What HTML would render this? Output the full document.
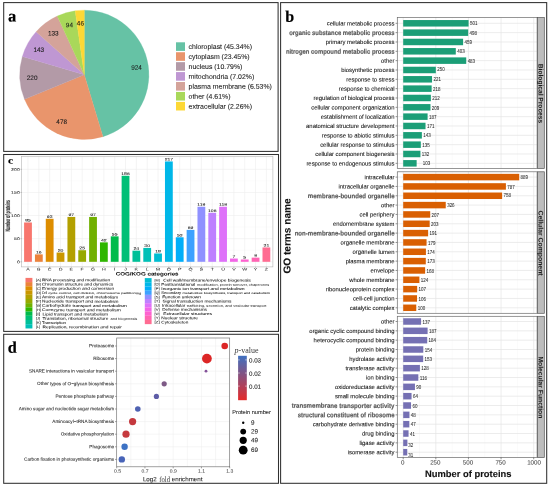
<!DOCTYPE html>
<html><head><meta charset="utf-8"><title>Figure</title>
<style>html,body{margin:0;padding:0;background:#fff}svg{display:block}text{white-space:pre}</style></head>
<body>
<svg width="550" height="487" viewBox="0 0 550 487" font-family="Liberation Sans, Arial, sans-serif">
<rect x="3.7" y="2.6" width="274.4" height="148.8" fill="none" stroke="#303030" stroke-width="1.05"/>
<rect x="3.7" y="154.5" width="274.8" height="176.9" fill="none" stroke="#303030" stroke-width="1.05"/>
<rect x="3.7" y="334.3" width="274.8" height="149" fill="none" stroke="#303030" stroke-width="1.05"/>
<rect x="280.6" y="2.6" width="266.1" height="480.7" fill="none" stroke="#303030" stroke-width="1.05"/>
<g id="panel-a">
<text font-size="66" fill="#000" font-weight="bold" font-family="Liberation Serif, Times New Roman, serif" transform="translate(7.9 21.6) rotate(0.03) scale(0.2500)" stroke="#000" stroke-width="0.79">a</text>
<path d="M84.3 74.8 L84.3 10.2 A64.6 64.6 0 0 1 102.95 136.65 Z" fill="#66c2a5" stroke="#66c2a5" stroke-width="0.3"/>
<path d="M84.3 74.8 L102.95 136.65 A64.6 64.6 0 0 1 24.55 99.36 Z" fill="#e9956c" stroke="#e9956c" stroke-width="0.3"/>
<path d="M84.3 74.8 L24.55 99.36 A64.6 64.6 0 0 1 22.37 56.44 Z" fill="#b39aa7" stroke="#b39aa7" stroke-width="0.3"/>
<path d="M84.3 74.8 L22.37 56.44 A64.6 64.6 0 0 1 36.12 31.76 Z" fill="#bf97d3" stroke="#bf97d3" stroke-width="0.3"/>
<path d="M84.3 74.8 L36.12 31.76 A64.6 64.6 0 0 1 57.27 16.12 Z" fill="#d4a39a" stroke="#d4a39a" stroke-width="0.3"/>
<path d="M84.3 74.8 L57.27 16.12 A64.6 64.6 0 0 1 75.17 10.85 Z" fill="#a9d85a" stroke="#a9d85a" stroke-width="0.3"/>
<path d="M84.3 74.8 L75.17 10.85 A64.6 64.6 0 0 1 84.3 10.2 Z" fill="#fdd835" stroke="#fdd835" stroke-width="0.3"/>
<text font-size="25.6" fill="#1a1a1a" text-anchor="middle" transform="translate(136.5 69.69) rotate(0.03) scale(0.2500)" stroke="#1a1a1a" stroke-width="0.31">924</text>
<text font-size="25.6" fill="#1a1a1a" text-anchor="middle" transform="translate(61.7 123.89) rotate(0.03) scale(0.2500)" stroke="#1a1a1a" stroke-width="0.31">478</text>
<text font-size="25.6" fill="#1a1a1a" text-anchor="middle" transform="translate(32.1 79.89) rotate(0.03) scale(0.2500)" stroke="#1a1a1a" stroke-width="0.31">220</text>
<text font-size="25.6" fill="#1a1a1a" text-anchor="middle" transform="translate(38.8 52.09) rotate(0.03) scale(0.2500)" stroke="#1a1a1a" stroke-width="0.31">143</text>
<text font-size="25.6" fill="#1a1a1a" text-anchor="middle" transform="translate(53.3 35.49) rotate(0.03) scale(0.2500)" stroke="#1a1a1a" stroke-width="0.31">133</text>
<text font-size="25.6" fill="#1a1a1a" text-anchor="middle" transform="translate(69.4 27.29) rotate(0.03) scale(0.2500)" stroke="#1a1a1a" stroke-width="0.31">94</text>
<text font-size="25.6" fill="#1a1a1a" text-anchor="middle" transform="translate(80.4 25.39) rotate(0.03) scale(0.2500)" stroke="#1a1a1a" stroke-width="0.31">46</text>
<rect x="176" y="42.3" width="9" height="8.6" fill="#66c2a5"/>
<text font-size="27.68" fill="#1a1a1a" transform="translate(188.6 49.08) rotate(0.03) scale(0.2500)" stroke="#1a1a1a" stroke-width="0.33">chloroplast (45.34%)</text>
<rect x="176" y="52.23" width="9" height="8.6" fill="#e9956c"/>
<text font-size="27.68" fill="#1a1a1a" transform="translate(188.6 59.01) rotate(0.03) scale(0.2500)" stroke="#1a1a1a" stroke-width="0.33">cytoplasm (23.45%)</text>
<rect x="176" y="62.16" width="9" height="8.6" fill="#b39aa7"/>
<text font-size="27.68" fill="#1a1a1a" transform="translate(188.6 68.94) rotate(0.03) scale(0.2500)" stroke="#1a1a1a" stroke-width="0.33">nucleus (10.79%)</text>
<rect x="176" y="72.09" width="9" height="8.6" fill="#bf97d3"/>
<text font-size="27.68" fill="#1a1a1a" transform="translate(188.6 78.87) rotate(0.03) scale(0.2500)" stroke="#1a1a1a" stroke-width="0.33">mitochondria (7.02%)</text>
<rect x="176" y="82.02" width="9" height="8.6" fill="#d4a39a"/>
<text font-size="27.68" fill="#1a1a1a" transform="translate(188.6 88.8) rotate(0.03) scale(0.2500)" stroke="#1a1a1a" stroke-width="0.33">plasma membrane (6.53%)</text>
<rect x="176" y="91.95" width="9" height="8.6" fill="#a9d85a"/>
<text font-size="27.68" fill="#1a1a1a" transform="translate(188.6 98.73) rotate(0.03) scale(0.2500)" stroke="#1a1a1a" stroke-width="0.33">other (4.61%)</text>
<rect x="176" y="101.88" width="9" height="8.6" fill="#fdd835"/>
<text font-size="27.68" fill="#1a1a1a" transform="translate(188.6 108.66) rotate(0.03) scale(0.2500)" stroke="#1a1a1a" stroke-width="0.33">extracellular (2.26%)</text>
</g>
<g id="panel-b">
<text font-size="64" fill="#000" font-weight="bold" font-family="Liberation Serif, Times New Roman, serif" transform="translate(285.2 21.7) rotate(0.03) scale(0.2500)" stroke="#000" stroke-width="0.77">b</text>
<rect x="397.3" y="17.5" width="139.8" height="151" fill="#fff"/>
<line x1="419.51" y1="17.5" x2="419.51" y2="168.5" stroke="#f2f2f2" stroke-width="0.4"/>
<line x1="452.14" y1="17.5" x2="452.14" y2="168.5" stroke="#f2f2f2" stroke-width="0.4"/>
<line x1="484.76" y1="17.5" x2="484.76" y2="168.5" stroke="#f2f2f2" stroke-width="0.4"/>
<line x1="517.39" y1="17.5" x2="517.39" y2="168.5" stroke="#f2f2f2" stroke-width="0.4"/>
<line x1="403.2" y1="17.5" x2="403.2" y2="168.5" stroke="#e4e4e4" stroke-width="0.7"/>
<line x1="435.82" y1="17.5" x2="435.82" y2="168.5" stroke="#e4e4e4" stroke-width="0.7"/>
<line x1="468.45" y1="17.5" x2="468.45" y2="168.5" stroke="#e4e4e4" stroke-width="0.7"/>
<line x1="501.07" y1="17.5" x2="501.07" y2="168.5" stroke="#e4e4e4" stroke-width="0.7"/>
<line x1="533.7" y1="17.5" x2="533.7" y2="168.5" stroke="#e4e4e4" stroke-width="0.7"/>
<line x1="397.3" y1="23.3" x2="537.1" y2="23.3" stroke="#e4e4e4" stroke-width="0.7"/>
<line x1="397.3" y1="32.64" x2="537.1" y2="32.64" stroke="#e4e4e4" stroke-width="0.7"/>
<line x1="397.3" y1="41.97" x2="537.1" y2="41.97" stroke="#e4e4e4" stroke-width="0.7"/>
<line x1="397.3" y1="51.31" x2="537.1" y2="51.31" stroke="#e4e4e4" stroke-width="0.7"/>
<line x1="397.3" y1="60.64" x2="537.1" y2="60.64" stroke="#e4e4e4" stroke-width="0.7"/>
<line x1="397.3" y1="69.98" x2="537.1" y2="69.98" stroke="#e4e4e4" stroke-width="0.7"/>
<line x1="397.3" y1="79.31" x2="537.1" y2="79.31" stroke="#e4e4e4" stroke-width="0.7"/>
<line x1="397.3" y1="88.64" x2="537.1" y2="88.64" stroke="#e4e4e4" stroke-width="0.7"/>
<line x1="397.3" y1="97.98" x2="537.1" y2="97.98" stroke="#e4e4e4" stroke-width="0.7"/>
<line x1="397.3" y1="107.32" x2="537.1" y2="107.32" stroke="#e4e4e4" stroke-width="0.7"/>
<line x1="397.3" y1="116.65" x2="537.1" y2="116.65" stroke="#e4e4e4" stroke-width="0.7"/>
<line x1="397.3" y1="125.98" x2="537.1" y2="125.98" stroke="#e4e4e4" stroke-width="0.7"/>
<line x1="397.3" y1="135.32" x2="537.1" y2="135.32" stroke="#e4e4e4" stroke-width="0.7"/>
<line x1="397.3" y1="144.66" x2="537.1" y2="144.66" stroke="#e4e4e4" stroke-width="0.7"/>
<line x1="397.3" y1="153.99" x2="537.1" y2="153.99" stroke="#e4e4e4" stroke-width="0.7"/>
<line x1="397.3" y1="163.33" x2="537.1" y2="163.33" stroke="#e4e4e4" stroke-width="0.7"/>
<rect x="403.2" y="20.05" width="65.38" height="6.5" fill="#1b9e77"/>
<text font-size="23.2" fill="#1a1a1a" transform="translate(469.98 25.38) rotate(0.03) scale(0.1938 0.2500)" stroke="#1a1a1a" stroke-width="0.12">501</text>
<line x1="395.6" y1="23.3" x2="397.3" y2="23.3" stroke="#444" stroke-width="0.6"/>
<text font-size="23.6" fill="#111" text-anchor="end" transform="translate(394.5 25.41) rotate(0.03) scale(0.2500)" stroke="#111" stroke-width="0.28">cellular metabolic process</text>
<rect x="403.2" y="29.39" width="64.99" height="6.5" fill="#1b9e77"/>
<text font-size="23.2" fill="#1a1a1a" transform="translate(469.59 34.71) rotate(0.03) scale(0.1938 0.2500)" stroke="#1a1a1a" stroke-width="0.12">498</text>
<line x1="395.6" y1="32.64" x2="397.3" y2="32.64" stroke="#444" stroke-width="0.6"/>
<text font-size="26.8" fill="#555" text-anchor="end" font-weight="bold" transform="translate(394.5 35.03) rotate(0.03) scale(0.2202 0.2500)" stroke="#555" stroke-width="0.56">organic substance metabolic process</text>
<rect x="403.2" y="38.72" width="59.9" height="6.5" fill="#1b9e77"/>
<text font-size="23.2" fill="#1a1a1a" transform="translate(464.5 44.05) rotate(0.03) scale(0.1938 0.2500)" stroke="#1a1a1a" stroke-width="0.12">459</text>
<line x1="395.6" y1="41.97" x2="397.3" y2="41.97" stroke="#444" stroke-width="0.6"/>
<text font-size="23.6" fill="#111" text-anchor="end" transform="translate(394.5 44.08) rotate(0.03) scale(0.2500)" stroke="#111" stroke-width="0.28">primary metabolic process</text>
<rect x="403.2" y="48.06" width="52.59" height="6.5" fill="#1b9e77"/>
<text font-size="23.2" fill="#1a1a1a" transform="translate(457.19 53.38) rotate(0.03) scale(0.1938 0.2500)" stroke="#1a1a1a" stroke-width="0.12">403</text>
<line x1="395.6" y1="51.31" x2="397.3" y2="51.31" stroke="#444" stroke-width="0.6"/>
<text font-size="26.8" fill="#555" text-anchor="end" font-weight="bold" transform="translate(394.5 53.7) rotate(0.03) scale(0.2203 0.2500)" stroke="#555" stroke-width="0.56">nitrogen compound metabolic process</text>
<rect x="403.2" y="57.39" width="63.03" height="6.5" fill="#1b9e77"/>
<text font-size="23.2" fill="#1a1a1a" transform="translate(467.63 62.72) rotate(0.03) scale(0.1938 0.2500)" stroke="#1a1a1a" stroke-width="0.12">483</text>
<line x1="395.6" y1="60.64" x2="397.3" y2="60.64" stroke="#444" stroke-width="0.6"/>
<text font-size="23.6" fill="#111" text-anchor="end" transform="translate(394.5 62.75) rotate(0.03) scale(0.2500)" stroke="#111" stroke-width="0.28">other</text>
<rect x="403.2" y="66.73" width="32.62" height="6.5" fill="#1b9e77"/>
<text font-size="23.2" fill="#1a1a1a" transform="translate(437.22 71.45) rotate(0.03) scale(0.1938 0.2500)" stroke="#1a1a1a" stroke-width="0.12">250</text>
<line x1="395.6" y1="69.98" x2="397.3" y2="69.98" stroke="#444" stroke-width="0.6"/>
<text font-size="23.6" fill="#111" text-anchor="end" transform="translate(394.5 72.09) rotate(0.03) scale(0.2500)" stroke="#111" stroke-width="0.28">biosynthetic process</text>
<rect x="403.2" y="76.06" width="28.84" height="6.5" fill="#1b9e77"/>
<text font-size="23.2" fill="#1a1a1a" transform="translate(433.44 81.39) rotate(0.03) scale(0.1938 0.2500)" stroke="#1a1a1a" stroke-width="0.12">221</text>
<line x1="395.6" y1="79.31" x2="397.3" y2="79.31" stroke="#444" stroke-width="0.6"/>
<text font-size="23.6" fill="#111" text-anchor="end" transform="translate(394.5 81.42) rotate(0.03) scale(0.2500)" stroke="#111" stroke-width="0.28">response to stress</text>
<rect x="403.2" y="85.39" width="28.45" height="6.5" fill="#1b9e77"/>
<text font-size="23.2" fill="#1a1a1a" transform="translate(433.05 90.72) rotate(0.03) scale(0.1938 0.2500)" stroke="#1a1a1a" stroke-width="0.12">218</text>
<line x1="395.6" y1="88.64" x2="397.3" y2="88.64" stroke="#444" stroke-width="0.6"/>
<text font-size="23.6" fill="#111" text-anchor="end" transform="translate(394.5 90.76) rotate(0.03) scale(0.2500)" stroke="#111" stroke-width="0.28">response to chemical</text>
<rect x="403.2" y="94.73" width="27.67" height="6.5" fill="#1b9e77"/>
<text font-size="23.2" fill="#1a1a1a" transform="translate(432.27 100.06) rotate(0.03) scale(0.1938 0.2500)" stroke="#1a1a1a" stroke-width="0.12">212</text>
<line x1="395.6" y1="97.98" x2="397.3" y2="97.98" stroke="#444" stroke-width="0.6"/>
<text font-size="23.6" fill="#111" text-anchor="end" transform="translate(394.5 100.09) rotate(0.03) scale(0.2500)" stroke="#111" stroke-width="0.28">regulation of biological process</text>
<rect x="403.2" y="104.07" width="27.27" height="6.5" fill="#1b9e77"/>
<text font-size="23.2" fill="#1a1a1a" transform="translate(431.87 110.39) rotate(0.03) scale(0.1938 0.2500)" stroke="#1a1a1a" stroke-width="0.12">209</text>
<line x1="395.6" y1="107.32" x2="397.3" y2="107.32" stroke="#444" stroke-width="0.6"/>
<text font-size="23.6" fill="#111" text-anchor="end" transform="translate(394.5 109.43) rotate(0.03) scale(0.2500)" stroke="#111" stroke-width="0.28">cellular component organization</text>
<rect x="403.2" y="113.4" width="24.4" height="6.5" fill="#1b9e77"/>
<text font-size="23.2" fill="#1a1a1a" transform="translate(429 118.73) rotate(0.03) scale(0.1938 0.2500)" stroke="#1a1a1a" stroke-width="0.12">187</text>
<line x1="395.6" y1="116.65" x2="397.3" y2="116.65" stroke="#444" stroke-width="0.6"/>
<text font-size="23.6" fill="#111" text-anchor="end" transform="translate(394.5 118.76) rotate(0.03) scale(0.2500)" stroke="#111" stroke-width="0.28">establishment of localization</text>
<rect x="403.2" y="122.73" width="22.32" height="6.5" fill="#1b9e77"/>
<text font-size="23.2" fill="#1a1a1a" transform="translate(426.92 128.06) rotate(0.03) scale(0.1938 0.2500)" stroke="#1a1a1a" stroke-width="0.12">171</text>
<line x1="395.6" y1="125.98" x2="397.3" y2="125.98" stroke="#444" stroke-width="0.6"/>
<text font-size="23.6" fill="#111" text-anchor="end" transform="translate(394.5 128.1) rotate(0.03) scale(0.2500)" stroke="#111" stroke-width="0.28">anatomical structure development</text>
<rect x="403.2" y="132.07" width="18.66" height="6.5" fill="#1b9e77"/>
<text font-size="23.2" fill="#1a1a1a" transform="translate(423.26 137.4) rotate(0.03) scale(0.1938 0.2500)" stroke="#1a1a1a" stroke-width="0.12">143</text>
<line x1="395.6" y1="135.32" x2="397.3" y2="135.32" stroke="#444" stroke-width="0.6"/>
<text font-size="23.6" fill="#111" text-anchor="end" transform="translate(394.5 137.43) rotate(0.03) scale(0.2500)" stroke="#111" stroke-width="0.28">response to abiotic stimulus</text>
<rect x="403.2" y="141.41" width="17.62" height="6.5" fill="#1b9e77"/>
<text font-size="23.2" fill="#1a1a1a" transform="translate(422.22 146.73) rotate(0.03) scale(0.1938 0.2500)" stroke="#1a1a1a" stroke-width="0.12">135</text>
<line x1="395.6" y1="144.66" x2="397.3" y2="144.66" stroke="#444" stroke-width="0.6"/>
<text font-size="23.6" fill="#111" text-anchor="end" transform="translate(394.5 146.77) rotate(0.03) scale(0.2500)" stroke="#111" stroke-width="0.28">cellular response to stimulus</text>
<rect x="403.2" y="150.74" width="17.23" height="6.5" fill="#1b9e77"/>
<text font-size="23.2" fill="#1a1a1a" transform="translate(421.83 156.07) rotate(0.03) scale(0.1938 0.2500)" stroke="#1a1a1a" stroke-width="0.12">132</text>
<line x1="395.6" y1="153.99" x2="397.3" y2="153.99" stroke="#444" stroke-width="0.6"/>
<text font-size="23.6" fill="#111" text-anchor="end" transform="translate(394.5 156.1) rotate(0.03) scale(0.2500)" stroke="#111" stroke-width="0.28">cellular component biogenesis</text>
<rect x="403.2" y="160.08" width="13.44" height="6.5" fill="#1b9e77"/>
<text font-size="23.2" fill="#1a1a1a" transform="translate(422.84 165.4) rotate(0.03) scale(0.1938 0.2500)" stroke="#1a1a1a" stroke-width="0.12">103</text>
<line x1="395.6" y1="163.33" x2="397.3" y2="163.33" stroke="#444" stroke-width="0.6"/>
<text font-size="23.6" fill="#111" text-anchor="end" transform="translate(394.5 165.44) rotate(0.03) scale(0.2500)" stroke="#111" stroke-width="0.28">response to endogenous stimulus</text>
<rect x="397.3" y="17.5" width="139.8" height="151" fill="none" stroke="#6a6a6a" stroke-width="0.7"/>
<rect x="537.5" y="17.5" width="6.8" height="151" fill="#bdbdbd" stroke="#555" stroke-width="0.7"/>
<text font-size="26.8" fill="#1a1a1a" text-anchor="middle" font-weight="bold" transform="translate(538.6 93.5) rotate(90.03) scale(0.2481 0.2500)">Biological Process</text>
<rect x="397.3" y="171.8" width="139.8" height="141.5" fill="#fff"/>
<line x1="419.51" y1="171.8" x2="419.51" y2="313.3" stroke="#f2f2f2" stroke-width="0.4"/>
<line x1="452.14" y1="171.8" x2="452.14" y2="313.3" stroke="#f2f2f2" stroke-width="0.4"/>
<line x1="484.76" y1="171.8" x2="484.76" y2="313.3" stroke="#f2f2f2" stroke-width="0.4"/>
<line x1="517.39" y1="171.8" x2="517.39" y2="313.3" stroke="#f2f2f2" stroke-width="0.4"/>
<line x1="403.2" y1="171.8" x2="403.2" y2="313.3" stroke="#e4e4e4" stroke-width="0.7"/>
<line x1="435.82" y1="171.8" x2="435.82" y2="313.3" stroke="#e4e4e4" stroke-width="0.7"/>
<line x1="468.45" y1="171.8" x2="468.45" y2="313.3" stroke="#e4e4e4" stroke-width="0.7"/>
<line x1="501.07" y1="171.8" x2="501.07" y2="313.3" stroke="#e4e4e4" stroke-width="0.7"/>
<line x1="533.7" y1="171.8" x2="533.7" y2="313.3" stroke="#e4e4e4" stroke-width="0.7"/>
<line x1="397.3" y1="177.1" x2="537.1" y2="177.1" stroke="#e4e4e4" stroke-width="0.7"/>
<line x1="397.3" y1="186.44" x2="537.1" y2="186.44" stroke="#e4e4e4" stroke-width="0.7"/>
<line x1="397.3" y1="195.77" x2="537.1" y2="195.77" stroke="#e4e4e4" stroke-width="0.7"/>
<line x1="397.3" y1="205.1" x2="537.1" y2="205.1" stroke="#e4e4e4" stroke-width="0.7"/>
<line x1="397.3" y1="214.44" x2="537.1" y2="214.44" stroke="#e4e4e4" stroke-width="0.7"/>
<line x1="397.3" y1="223.78" x2="537.1" y2="223.78" stroke="#e4e4e4" stroke-width="0.7"/>
<line x1="397.3" y1="233.11" x2="537.1" y2="233.11" stroke="#e4e4e4" stroke-width="0.7"/>
<line x1="397.3" y1="242.44" x2="537.1" y2="242.44" stroke="#e4e4e4" stroke-width="0.7"/>
<line x1="397.3" y1="251.78" x2="537.1" y2="251.78" stroke="#e4e4e4" stroke-width="0.7"/>
<line x1="397.3" y1="261.12" x2="537.1" y2="261.12" stroke="#e4e4e4" stroke-width="0.7"/>
<line x1="397.3" y1="270.45" x2="537.1" y2="270.45" stroke="#e4e4e4" stroke-width="0.7"/>
<line x1="397.3" y1="279.78" x2="537.1" y2="279.78" stroke="#e4e4e4" stroke-width="0.7"/>
<line x1="397.3" y1="289.12" x2="537.1" y2="289.12" stroke="#e4e4e4" stroke-width="0.7"/>
<line x1="397.3" y1="298.46" x2="537.1" y2="298.46" stroke="#e4e4e4" stroke-width="0.7"/>
<line x1="397.3" y1="307.79" x2="537.1" y2="307.79" stroke="#e4e4e4" stroke-width="0.7"/>
<rect x="403.2" y="173.85" width="116.01" height="6.5" fill="#d95f02"/>
<text font-size="23.2" fill="#1a1a1a" transform="translate(520.61 179.18) rotate(0.03) scale(0.1938 0.2500)" stroke="#1a1a1a" stroke-width="0.12">889</text>
<line x1="395.6" y1="177.1" x2="397.3" y2="177.1" stroke="#444" stroke-width="0.6"/>
<text font-size="23.6" fill="#111" text-anchor="end" transform="translate(394.5 179.21) rotate(0.03) scale(0.2500)" stroke="#111" stroke-width="0.28">intracellular</text>
<rect x="403.2" y="183.19" width="102.7" height="6.5" fill="#d95f02"/>
<text font-size="23.2" fill="#1a1a1a" transform="translate(507.3 188.51) rotate(0.03) scale(0.1938 0.2500)" stroke="#1a1a1a" stroke-width="0.12">787</text>
<line x1="395.6" y1="186.44" x2="397.3" y2="186.44" stroke="#444" stroke-width="0.6"/>
<text font-size="23.6" fill="#111" text-anchor="end" transform="translate(394.5 188.55) rotate(0.03) scale(0.2500)" stroke="#111" stroke-width="0.28">intracellular organelle</text>
<rect x="403.2" y="192.52" width="98.92" height="6.5" fill="#d95f02"/>
<text font-size="23.2" fill="#1a1a1a" transform="translate(503.52 196.75) rotate(0.03) scale(0.1938 0.2500)" stroke="#1a1a1a" stroke-width="0.12">758</text>
<line x1="395.6" y1="195.77" x2="397.3" y2="195.77" stroke="#444" stroke-width="0.6"/>
<text font-size="26.8" fill="#555" text-anchor="end" font-weight="bold" transform="translate(394.5 198.17) rotate(0.03) scale(0.2259 0.2500)" stroke="#555" stroke-width="0.56">membrane-bounded organelle</text>
<rect x="403.2" y="201.85" width="42.54" height="6.5" fill="#d95f02"/>
<text font-size="23.2" fill="#1a1a1a" transform="translate(447.14 207.18) rotate(0.03) scale(0.1938 0.2500)" stroke="#1a1a1a" stroke-width="0.12">326</text>
<line x1="395.6" y1="205.1" x2="397.3" y2="205.1" stroke="#444" stroke-width="0.6"/>
<text font-size="23.6" fill="#111" text-anchor="end" transform="translate(394.5 207.22) rotate(0.03) scale(0.2500)" stroke="#111" stroke-width="0.28">other</text>
<rect x="403.2" y="211.19" width="27.01" height="6.5" fill="#d95f02"/>
<text font-size="23.2" fill="#1a1a1a" transform="translate(431.61 216.52) rotate(0.03) scale(0.1938 0.2500)" stroke="#1a1a1a" stroke-width="0.12">207</text>
<line x1="395.6" y1="214.44" x2="397.3" y2="214.44" stroke="#444" stroke-width="0.6"/>
<text font-size="23.6" fill="#111" text-anchor="end" transform="translate(394.5 216.55) rotate(0.03) scale(0.2500)" stroke="#111" stroke-width="0.28">cell periphery</text>
<rect x="403.2" y="220.53" width="26.49" height="6.5" fill="#d95f02"/>
<text font-size="23.2" fill="#1a1a1a" transform="translate(431.09 225.85) rotate(0.03) scale(0.1938 0.2500)" stroke="#1a1a1a" stroke-width="0.12">203</text>
<line x1="395.6" y1="223.78" x2="397.3" y2="223.78" stroke="#444" stroke-width="0.6"/>
<text font-size="23.6" fill="#111" text-anchor="end" transform="translate(394.5 225.89) rotate(0.03) scale(0.2500)" stroke="#111" stroke-width="0.28">endomembrane system</text>
<rect x="403.2" y="229.86" width="24.93" height="6.5" fill="#d95f02"/>
<text font-size="23.2" fill="#1a1a1a" transform="translate(429.53 235.19) rotate(0.03) scale(0.1938 0.2500)" stroke="#1a1a1a" stroke-width="0.12">191</text>
<line x1="395.6" y1="233.11" x2="397.3" y2="233.11" stroke="#444" stroke-width="0.6"/>
<text font-size="26.8" fill="#555" text-anchor="end" font-weight="bold" transform="translate(394.5 235.51) rotate(0.03) scale(0.2263 0.2500)" stroke="#555" stroke-width="0.56">non-membrane-bounded organelle</text>
<rect x="403.2" y="239.19" width="23.36" height="6.5" fill="#d95f02"/>
<text font-size="23.2" fill="#1a1a1a" transform="translate(427.96 244.52) rotate(0.03) scale(0.1938 0.2500)" stroke="#1a1a1a" stroke-width="0.12">179</text>
<line x1="395.6" y1="242.44" x2="397.3" y2="242.44" stroke="#444" stroke-width="0.6"/>
<text font-size="23.6" fill="#111" text-anchor="end" transform="translate(394.5 244.56) rotate(0.03) scale(0.2500)" stroke="#111" stroke-width="0.28">organelle membrane</text>
<rect x="403.2" y="248.53" width="22.71" height="6.5" fill="#d95f02"/>
<text font-size="23.2" fill="#1a1a1a" transform="translate(427.31 253.86) rotate(0.03) scale(0.1938 0.2500)" stroke="#1a1a1a" stroke-width="0.12">174</text>
<line x1="395.6" y1="251.78" x2="397.3" y2="251.78" stroke="#444" stroke-width="0.6"/>
<text font-size="23.6" fill="#111" text-anchor="end" transform="translate(394.5 253.89) rotate(0.03) scale(0.2500)" stroke="#111" stroke-width="0.28">organelle lumen</text>
<rect x="403.2" y="257.87" width="22.58" height="6.5" fill="#d95f02"/>
<text font-size="23.2" fill="#1a1a1a" transform="translate(427.18 263.19) rotate(0.03) scale(0.1938 0.2500)" stroke="#1a1a1a" stroke-width="0.12">173</text>
<line x1="395.6" y1="261.12" x2="397.3" y2="261.12" stroke="#444" stroke-width="0.6"/>
<text font-size="23.6" fill="#111" text-anchor="end" transform="translate(394.5 263.23) rotate(0.03) scale(0.2500)" stroke="#111" stroke-width="0.28">plasma membrane</text>
<rect x="403.2" y="267.2" width="21.92" height="6.5" fill="#d95f02"/>
<text font-size="23.2" fill="#1a1a1a" transform="translate(426.52 272.53) rotate(0.03) scale(0.1938 0.2500)" stroke="#1a1a1a" stroke-width="0.12">168</text>
<line x1="395.6" y1="270.45" x2="397.3" y2="270.45" stroke="#444" stroke-width="0.6"/>
<text font-size="23.6" fill="#111" text-anchor="end" transform="translate(394.5 272.56) rotate(0.03) scale(0.2500)" stroke="#111" stroke-width="0.28">envelope</text>
<rect x="403.2" y="276.53" width="16.18" height="6.5" fill="#d95f02"/>
<text font-size="23.2" fill="#1a1a1a" transform="translate(420.78 281.86) rotate(0.03) scale(0.1938 0.2500)" stroke="#1a1a1a" stroke-width="0.12">124</text>
<line x1="395.6" y1="279.78" x2="397.3" y2="279.78" stroke="#444" stroke-width="0.6"/>
<text font-size="23.6" fill="#111" text-anchor="end" transform="translate(394.5 281.9) rotate(0.03) scale(0.2500)" stroke="#111" stroke-width="0.28">whole membrane</text>
<rect x="403.2" y="285.87" width="13.96" height="6.5" fill="#d95f02"/>
<text font-size="23.2" fill="#1a1a1a" transform="translate(418.56 291.2) rotate(0.03) scale(0.1938 0.2500)" stroke="#1a1a1a" stroke-width="0.12">107</text>
<line x1="395.6" y1="289.12" x2="397.3" y2="289.12" stroke="#444" stroke-width="0.6"/>
<text font-size="23.6" fill="#111" text-anchor="end" transform="translate(394.5 291.23) rotate(0.03) scale(0.2500)" stroke="#111" stroke-width="0.28">ribonucleoprotein complex</text>
<rect x="403.2" y="295.21" width="13.83" height="6.5" fill="#d95f02"/>
<text font-size="23.2" fill="#1a1a1a" transform="translate(418.43 300.53) rotate(0.03) scale(0.1938 0.2500)" stroke="#1a1a1a" stroke-width="0.12">106</text>
<line x1="395.6" y1="298.46" x2="397.3" y2="298.46" stroke="#444" stroke-width="0.6"/>
<text font-size="23.6" fill="#111" text-anchor="end" transform="translate(394.5 300.57) rotate(0.03) scale(0.2500)" stroke="#111" stroke-width="0.28">cell-cell junction</text>
<rect x="403.2" y="304.54" width="13.05" height="6.5" fill="#d95f02"/>
<text font-size="23.2" fill="#1a1a1a" transform="translate(417.65 309.87) rotate(0.03) scale(0.1938 0.2500)" stroke="#1a1a1a" stroke-width="0.12">100</text>
<line x1="395.6" y1="307.79" x2="397.3" y2="307.79" stroke="#444" stroke-width="0.6"/>
<text font-size="23.6" fill="#111" text-anchor="end" transform="translate(394.5 309.9) rotate(0.03) scale(0.2500)" stroke="#111" stroke-width="0.28">catalytic complex</text>
<rect x="397.3" y="171.8" width="139.8" height="141.5" fill="none" stroke="#6a6a6a" stroke-width="0.7"/>
<rect x="537.5" y="171.8" width="6.8" height="141.5" fill="#bdbdbd" stroke="#555" stroke-width="0.7"/>
<text font-size="26.8" fill="#1a1a1a" text-anchor="middle" font-weight="bold" transform="translate(538.6 243.05) rotate(90.03) scale(0.2565 0.2500)">Cellular Component</text>
<rect x="397.3" y="316.3" width="139.8" height="141.2" fill="#fff"/>
<line x1="419.51" y1="316.3" x2="419.51" y2="457.5" stroke="#f2f2f2" stroke-width="0.4"/>
<line x1="452.14" y1="316.3" x2="452.14" y2="457.5" stroke="#f2f2f2" stroke-width="0.4"/>
<line x1="484.76" y1="316.3" x2="484.76" y2="457.5" stroke="#f2f2f2" stroke-width="0.4"/>
<line x1="517.39" y1="316.3" x2="517.39" y2="457.5" stroke="#f2f2f2" stroke-width="0.4"/>
<line x1="403.2" y1="316.3" x2="403.2" y2="457.5" stroke="#e4e4e4" stroke-width="0.7"/>
<line x1="435.82" y1="316.3" x2="435.82" y2="457.5" stroke="#e4e4e4" stroke-width="0.7"/>
<line x1="468.45" y1="316.3" x2="468.45" y2="457.5" stroke="#e4e4e4" stroke-width="0.7"/>
<line x1="501.07" y1="316.3" x2="501.07" y2="457.5" stroke="#e4e4e4" stroke-width="0.7"/>
<line x1="533.7" y1="316.3" x2="533.7" y2="457.5" stroke="#e4e4e4" stroke-width="0.7"/>
<line x1="397.3" y1="321.5" x2="537.1" y2="321.5" stroke="#e4e4e4" stroke-width="0.7"/>
<line x1="397.3" y1="330.83" x2="537.1" y2="330.83" stroke="#e4e4e4" stroke-width="0.7"/>
<line x1="397.3" y1="340.17" x2="537.1" y2="340.17" stroke="#e4e4e4" stroke-width="0.7"/>
<line x1="397.3" y1="349.5" x2="537.1" y2="349.5" stroke="#e4e4e4" stroke-width="0.7"/>
<line x1="397.3" y1="358.84" x2="537.1" y2="358.84" stroke="#e4e4e4" stroke-width="0.7"/>
<line x1="397.3" y1="368.18" x2="537.1" y2="368.18" stroke="#e4e4e4" stroke-width="0.7"/>
<line x1="397.3" y1="377.51" x2="537.1" y2="377.51" stroke="#e4e4e4" stroke-width="0.7"/>
<line x1="397.3" y1="386.85" x2="537.1" y2="386.85" stroke="#e4e4e4" stroke-width="0.7"/>
<line x1="397.3" y1="396.18" x2="537.1" y2="396.18" stroke="#e4e4e4" stroke-width="0.7"/>
<line x1="397.3" y1="405.51" x2="537.1" y2="405.51" stroke="#e4e4e4" stroke-width="0.7"/>
<line x1="397.3" y1="414.85" x2="537.1" y2="414.85" stroke="#e4e4e4" stroke-width="0.7"/>
<line x1="397.3" y1="424.19" x2="537.1" y2="424.19" stroke="#e4e4e4" stroke-width="0.7"/>
<line x1="397.3" y1="433.52" x2="537.1" y2="433.52" stroke="#e4e4e4" stroke-width="0.7"/>
<line x1="397.3" y1="442.86" x2="537.1" y2="442.86" stroke="#e4e4e4" stroke-width="0.7"/>
<line x1="397.3" y1="452.19" x2="537.1" y2="452.19" stroke="#e4e4e4" stroke-width="0.7"/>
<rect x="403.2" y="318.25" width="17.88" height="6.5" fill="#7570b3"/>
<text font-size="23.2" fill="#1a1a1a" transform="translate(422.48 323.58) rotate(0.03) scale(0.1938 0.2500)" stroke="#1a1a1a" stroke-width="0.12">137</text>
<line x1="395.6" y1="321.5" x2="397.3" y2="321.5" stroke="#444" stroke-width="0.6"/>
<text font-size="23.6" fill="#111" text-anchor="end" transform="translate(394.5 323.61) rotate(0.03) scale(0.2500)" stroke="#111" stroke-width="0.28">other</text>
<rect x="403.2" y="327.58" width="24.4" height="6.5" fill="#7570b3"/>
<text font-size="23.2" fill="#1a1a1a" transform="translate(429 332.91) rotate(0.03) scale(0.1938 0.2500)" stroke="#1a1a1a" stroke-width="0.12">187</text>
<line x1="395.6" y1="330.83" x2="397.3" y2="330.83" stroke="#444" stroke-width="0.6"/>
<text font-size="23.6" fill="#111" text-anchor="end" transform="translate(394.5 332.95) rotate(0.03) scale(0.2500)" stroke="#111" stroke-width="0.28">organic cyclic compound binding</text>
<rect x="403.2" y="336.92" width="24.01" height="6.5" fill="#7570b3"/>
<text font-size="23.2" fill="#1a1a1a" transform="translate(428.61 342.25) rotate(0.03) scale(0.1938 0.2500)" stroke="#1a1a1a" stroke-width="0.12">184</text>
<line x1="395.6" y1="340.17" x2="397.3" y2="340.17" stroke="#444" stroke-width="0.6"/>
<text font-size="23.6" fill="#111" text-anchor="end" transform="translate(394.5 342.28) rotate(0.03) scale(0.2500)" stroke="#111" stroke-width="0.28">heterocyclic compound binding</text>
<rect x="403.2" y="346.25" width="20.1" height="6.5" fill="#7570b3"/>
<text font-size="23.2" fill="#1a1a1a" transform="translate(424.7 351.58) rotate(0.03) scale(0.1938 0.2500)" stroke="#1a1a1a" stroke-width="0.12">154</text>
<line x1="395.6" y1="349.5" x2="397.3" y2="349.5" stroke="#444" stroke-width="0.6"/>
<text font-size="23.6" fill="#111" text-anchor="end" transform="translate(394.5 351.62) rotate(0.03) scale(0.2500)" stroke="#111" stroke-width="0.28">protein binding</text>
<rect x="403.2" y="355.59" width="19.97" height="6.5" fill="#7570b3"/>
<text font-size="23.2" fill="#1a1a1a" transform="translate(424.57 360.92) rotate(0.03) scale(0.1938 0.2500)" stroke="#1a1a1a" stroke-width="0.12">153</text>
<line x1="395.6" y1="358.84" x2="397.3" y2="358.84" stroke="#444" stroke-width="0.6"/>
<text font-size="23.6" fill="#111" text-anchor="end" transform="translate(394.5 360.95) rotate(0.03) scale(0.2500)" stroke="#111" stroke-width="0.28">hydrolase activity</text>
<rect x="403.2" y="364.93" width="16.7" height="6.5" fill="#7570b3"/>
<text font-size="23.2" fill="#1a1a1a" transform="translate(421.3 370.25) rotate(0.03) scale(0.1938 0.2500)" stroke="#1a1a1a" stroke-width="0.12">128</text>
<line x1="395.6" y1="368.18" x2="397.3" y2="368.18" stroke="#444" stroke-width="0.6"/>
<text font-size="23.6" fill="#111" text-anchor="end" transform="translate(394.5 370.29) rotate(0.03) scale(0.2500)" stroke="#111" stroke-width="0.28">transferase activity</text>
<rect x="403.2" y="374.26" width="15.14" height="6.5" fill="#7570b3"/>
<text font-size="23.2" fill="#1a1a1a" transform="translate(419.74 379.59) rotate(0.03) scale(0.2028 0.2500)" stroke="#1a1a1a" stroke-width="0.12">116</text>
<line x1="395.6" y1="377.51" x2="397.3" y2="377.51" stroke="#444" stroke-width="0.6"/>
<text font-size="23.6" fill="#111" text-anchor="end" transform="translate(394.5 379.62) rotate(0.03) scale(0.2500)" stroke="#111" stroke-width="0.28">ion binding</text>
<rect x="403.2" y="383.6" width="11.75" height="6.5" fill="#7570b3"/>
<text font-size="23.2" fill="#1a1a1a" transform="translate(416.34 388.92) rotate(0.03) scale(0.1938 0.2500)" stroke="#1a1a1a" stroke-width="0.12">90</text>
<line x1="395.6" y1="386.85" x2="397.3" y2="386.85" stroke="#444" stroke-width="0.6"/>
<text font-size="23.6" fill="#111" text-anchor="end" transform="translate(394.5 388.96) rotate(0.03) scale(0.2500)" stroke="#111" stroke-width="0.28">oxidoreductase activity</text>
<rect x="403.2" y="392.93" width="8.35" height="6.5" fill="#7570b3"/>
<text font-size="23.2" fill="#1a1a1a" transform="translate(412.95 398.26) rotate(0.03) scale(0.1938 0.2500)" stroke="#1a1a1a" stroke-width="0.12">64</text>
<line x1="395.6" y1="396.18" x2="397.3" y2="396.18" stroke="#444" stroke-width="0.6"/>
<text font-size="23.6" fill="#111" text-anchor="end" transform="translate(394.5 398.29) rotate(0.03) scale(0.2500)" stroke="#111" stroke-width="0.28">small molecule binding</text>
<rect x="403.2" y="402.26" width="7.83" height="6.5" fill="#7570b3"/>
<text font-size="23.2" fill="#1a1a1a" transform="translate(412.43 407.59) rotate(0.03) scale(0.1938 0.2500)" stroke="#1a1a1a" stroke-width="0.12">60</text>
<line x1="395.6" y1="405.51" x2="397.3" y2="405.51" stroke="#444" stroke-width="0.6"/>
<text font-size="26.8" fill="#555" text-anchor="end" font-weight="bold" transform="translate(394.5 407.91) rotate(0.03) scale(0.2282 0.2500)" stroke="#555" stroke-width="0.56">transmembrane transporter activity</text>
<rect x="403.2" y="411.6" width="6.26" height="6.5" fill="#7570b3"/>
<text font-size="23.2" fill="#1a1a1a" transform="translate(410.86 416.93) rotate(0.03) scale(0.1938 0.2500)" stroke="#1a1a1a" stroke-width="0.12">48</text>
<line x1="395.6" y1="414.85" x2="397.3" y2="414.85" stroke="#444" stroke-width="0.6"/>
<text font-size="26.8" fill="#555" text-anchor="end" font-weight="bold" transform="translate(394.5 417.25) rotate(0.03) scale(0.2223 0.2500)" stroke="#555" stroke-width="0.56">structural constituent of ribosome</text>
<rect x="403.2" y="420.94" width="6.13" height="6.5" fill="#7570b3"/>
<text font-size="23.2" fill="#1a1a1a" transform="translate(410.73 426.26) rotate(0.03) scale(0.1938 0.2500)" stroke="#1a1a1a" stroke-width="0.12">47</text>
<line x1="395.6" y1="424.19" x2="397.3" y2="424.19" stroke="#444" stroke-width="0.6"/>
<text font-size="23.6" fill="#111" text-anchor="end" transform="translate(394.5 426.3) rotate(0.03) scale(0.2500)" stroke="#111" stroke-width="0.28">carbohydrate derivative binding</text>
<rect x="403.2" y="430.27" width="5.35" height="6.5" fill="#7570b3"/>
<text font-size="23.2" fill="#1a1a1a" transform="translate(409.95 435.6) rotate(0.03) scale(0.1938 0.2500)" stroke="#1a1a1a" stroke-width="0.12">41</text>
<line x1="395.6" y1="433.52" x2="397.3" y2="433.52" stroke="#444" stroke-width="0.6"/>
<text font-size="23.6" fill="#111" text-anchor="end" transform="translate(394.5 435.63) rotate(0.03) scale(0.2500)" stroke="#111" stroke-width="0.28">drug binding</text>
<rect x="403.2" y="439.61" width="4.18" height="6.5" fill="#7570b3"/>
<text font-size="23.2" fill="#1a1a1a" transform="translate(408.28 447.23) rotate(0.03) scale(0.1938 0.2500)" stroke="#1a1a1a" stroke-width="0.12">32</text>
<line x1="395.6" y1="442.86" x2="397.3" y2="442.86" stroke="#444" stroke-width="0.6"/>
<text font-size="23.6" fill="#111" text-anchor="end" transform="translate(394.5 444.97) rotate(0.03) scale(0.2500)" stroke="#111" stroke-width="0.28">ligase activity</text>
<rect x="403.2" y="448.94" width="4.05" height="6.5" fill="#7570b3"/>
<text font-size="23.2" fill="#1a1a1a" transform="translate(408.15 456.67) rotate(0.03) scale(0.1938 0.2500)" stroke="#1a1a1a" stroke-width="0.12">31</text>
<line x1="395.6" y1="452.19" x2="397.3" y2="452.19" stroke="#444" stroke-width="0.6"/>
<text font-size="23.6" fill="#111" text-anchor="end" transform="translate(394.5 454.3) rotate(0.03) scale(0.2500)" stroke="#111" stroke-width="0.28">isomerase activity</text>
<rect x="397.3" y="316.3" width="139.8" height="141.2" fill="none" stroke="#6a6a6a" stroke-width="0.7"/>
<rect x="537.5" y="316.3" width="6.8" height="141.2" fill="#bdbdbd" stroke="#555" stroke-width="0.7"/>
<text font-size="26.8" fill="#1a1a1a" text-anchor="middle" font-weight="bold" transform="translate(538.6 387.4) rotate(90.03) scale(0.2524 0.2500)">Molecular Function</text>
<line x1="403.2" y1="457.5" x2="403.2" y2="459.3" stroke="#444" stroke-width="0.6"/>
<text font-size="24.8" fill="#4d4d4d" text-anchor="middle" transform="translate(402.7 464.52) rotate(0.03) scale(0.2500)" stroke="#4d4d4d" stroke-width="0.3">0</text>
<line x1="435.82" y1="457.5" x2="435.82" y2="459.3" stroke="#444" stroke-width="0.6"/>
<text font-size="24.8" fill="#4d4d4d" text-anchor="middle" transform="translate(435.32 464.52) rotate(0.03) scale(0.2500)" stroke="#4d4d4d" stroke-width="0.3">250</text>
<line x1="468.45" y1="457.5" x2="468.45" y2="459.3" stroke="#444" stroke-width="0.6"/>
<text font-size="24.8" fill="#4d4d4d" text-anchor="middle" transform="translate(467.95 464.52) rotate(0.03) scale(0.2500)" stroke="#4d4d4d" stroke-width="0.3">500</text>
<line x1="501.07" y1="457.5" x2="501.07" y2="459.3" stroke="#444" stroke-width="0.6"/>
<text font-size="24.8" fill="#4d4d4d" text-anchor="middle" transform="translate(500.57 464.52) rotate(0.03) scale(0.2500)" stroke="#4d4d4d" stroke-width="0.3">750</text>
<line x1="533.7" y1="457.5" x2="533.7" y2="459.3" stroke="#444" stroke-width="0.6"/>
<text font-size="24.8" fill="#4d4d4d" text-anchor="middle" transform="translate(534 464.52) rotate(0.03) scale(0.2500)" stroke="#4d4d4d" stroke-width="0.3">1000</text>
<text font-size="37.6" fill="#111" text-anchor="middle" font-weight="bold" transform="translate(468.2 476.97) rotate(0.03) scale(0.2500)" stroke="#111" stroke-width="0.45">Number of proteins</text>
<text font-size="40.4" fill="#111" text-anchor="middle" font-weight="bold" transform="translate(290.5 236) rotate(-89.97) scale(0.2500)" stroke="#111" stroke-width="0.48">GO terms name</text>
</g>
<g id="panel-c">
<rect x="21.5" y="156.5" width="251.4" height="110.4" fill="#fff"/>
<line x1="21.5" y1="250.24" x2="272.9" y2="250.24" stroke="#f5f5f5" stroke-width="0.4"/>
<line x1="21.5" y1="227.11" x2="272.9" y2="227.11" stroke="#f5f5f5" stroke-width="0.4"/>
<line x1="21.5" y1="203.99" x2="272.9" y2="203.99" stroke="#f5f5f5" stroke-width="0.4"/>
<line x1="21.5" y1="180.86" x2="272.9" y2="180.86" stroke="#f5f5f5" stroke-width="0.4"/>
<line x1="21.5" y1="157.74" x2="272.9" y2="157.74" stroke="#f5f5f5" stroke-width="0.4"/>
<line x1="21.5" y1="261.8" x2="272.9" y2="261.8" stroke="#ececec" stroke-width="0.6"/>
<line x1="21.5" y1="238.68" x2="272.9" y2="238.68" stroke="#ececec" stroke-width="0.6"/>
<line x1="21.5" y1="215.55" x2="272.9" y2="215.55" stroke="#ececec" stroke-width="0.6"/>
<line x1="21.5" y1="192.43" x2="272.9" y2="192.43" stroke="#ececec" stroke-width="0.6"/>
<line x1="21.5" y1="169.3" x2="272.9" y2="169.3" stroke="#ececec" stroke-width="0.6"/>
<line x1="28" y1="156.5" x2="28" y2="266.9" stroke="#ececec" stroke-width="0.6"/>
<line x1="38.84" y1="156.5" x2="38.84" y2="266.9" stroke="#ececec" stroke-width="0.6"/>
<line x1="49.67" y1="156.5" x2="49.67" y2="266.9" stroke="#ececec" stroke-width="0.6"/>
<line x1="60.51" y1="156.5" x2="60.51" y2="266.9" stroke="#ececec" stroke-width="0.6"/>
<line x1="71.35" y1="156.5" x2="71.35" y2="266.9" stroke="#ececec" stroke-width="0.6"/>
<line x1="82.18" y1="156.5" x2="82.18" y2="266.9" stroke="#ececec" stroke-width="0.6"/>
<line x1="93.02" y1="156.5" x2="93.02" y2="266.9" stroke="#ececec" stroke-width="0.6"/>
<line x1="103.86" y1="156.5" x2="103.86" y2="266.9" stroke="#ececec" stroke-width="0.6"/>
<line x1="114.69" y1="156.5" x2="114.69" y2="266.9" stroke="#ececec" stroke-width="0.6"/>
<line x1="125.53" y1="156.5" x2="125.53" y2="266.9" stroke="#ececec" stroke-width="0.6"/>
<line x1="136.36" y1="156.5" x2="136.36" y2="266.9" stroke="#ececec" stroke-width="0.6"/>
<line x1="147.2" y1="156.5" x2="147.2" y2="266.9" stroke="#ececec" stroke-width="0.6"/>
<line x1="158.04" y1="156.5" x2="158.04" y2="266.9" stroke="#ececec" stroke-width="0.6"/>
<line x1="168.87" y1="156.5" x2="168.87" y2="266.9" stroke="#ececec" stroke-width="0.6"/>
<line x1="179.71" y1="156.5" x2="179.71" y2="266.9" stroke="#ececec" stroke-width="0.6"/>
<line x1="190.54" y1="156.5" x2="190.54" y2="266.9" stroke="#ececec" stroke-width="0.6"/>
<line x1="201.38" y1="156.5" x2="201.38" y2="266.9" stroke="#ececec" stroke-width="0.6"/>
<line x1="212.22" y1="156.5" x2="212.22" y2="266.9" stroke="#ececec" stroke-width="0.6"/>
<line x1="223.05" y1="156.5" x2="223.05" y2="266.9" stroke="#ececec" stroke-width="0.6"/>
<line x1="233.89" y1="156.5" x2="233.89" y2="266.9" stroke="#ececec" stroke-width="0.6"/>
<line x1="244.73" y1="156.5" x2="244.73" y2="266.9" stroke="#ececec" stroke-width="0.6"/>
<line x1="255.56" y1="156.5" x2="255.56" y2="266.9" stroke="#ececec" stroke-width="0.6"/>
<line x1="266.4" y1="156.5" x2="266.4" y2="266.9" stroke="#ececec" stroke-width="0.6"/>
<rect x="24.1" y="222.49" width="7.8" height="39.31" fill="#f8766d"/>
<text font-size="14.8" fill="#111" text-anchor="middle" transform="translate(28 221.59) rotate(0.03) scale(0.3450 0.2500)" stroke="#111" stroke-width="0.18">85</text>
<line x1="28" y1="266.9" x2="28" y2="267.9" stroke="#555" stroke-width="0.4"/>
<text font-size="15.2" fill="#2a2a2a" text-anchor="middle" transform="translate(28 270.45) rotate(0.03) scale(0.3450 0.2500)" stroke="#2a2a2a" stroke-width="0.18">A</text>
<rect x="34.94" y="254.4" width="7.8" height="7.4" fill="#ec823c"/>
<text font-size="14.8" fill="#111" text-anchor="middle" transform="translate(38.84 253.5) rotate(0.03) scale(0.3450 0.2500)" stroke="#111" stroke-width="0.18">16</text>
<line x1="38.84" y1="266.9" x2="38.84" y2="267.9" stroke="#555" stroke-width="0.4"/>
<text font-size="15.2" fill="#2a2a2a" text-anchor="middle" transform="translate(38.84 270.45) rotate(0.03) scale(0.3450 0.2500)" stroke="#2a2a2a" stroke-width="0.18">B</text>
<rect x="45.77" y="218.79" width="7.8" height="43.01" fill="#dd8d00"/>
<text font-size="14.8" fill="#111" text-anchor="middle" transform="translate(49.67 217.89) rotate(0.03) scale(0.3450 0.2500)" stroke="#111" stroke-width="0.18">93</text>
<line x1="49.67" y1="266.9" x2="49.67" y2="267.9" stroke="#555" stroke-width="0.4"/>
<text font-size="15.2" fill="#2a2a2a" text-anchor="middle" transform="translate(49.67 270.45) rotate(0.03) scale(0.3450 0.2500)" stroke="#2a2a2a" stroke-width="0.18">C</text>
<rect x="56.61" y="252.55" width="7.8" height="9.25" fill="#ca9700"/>
<text font-size="14.8" fill="#111" text-anchor="middle" transform="translate(60.51 251.65) rotate(0.03) scale(0.3450 0.2500)" stroke="#111" stroke-width="0.18">20</text>
<line x1="60.51" y1="266.9" x2="60.51" y2="267.9" stroke="#555" stroke-width="0.4"/>
<text font-size="15.2" fill="#2a2a2a" text-anchor="middle" transform="translate(60.51 270.45) rotate(0.03) scale(0.3450 0.2500)" stroke="#2a2a2a" stroke-width="0.18">D</text>
<rect x="67.45" y="216.94" width="7.8" height="44.86" fill="#b3a000"/>
<text font-size="14.8" fill="#111" text-anchor="middle" transform="translate(71.35 216.04) rotate(0.03) scale(0.3450 0.2500)" stroke="#111" stroke-width="0.18">97</text>
<line x1="71.35" y1="266.9" x2="71.35" y2="267.9" stroke="#555" stroke-width="0.4"/>
<text font-size="15.2" fill="#2a2a2a" text-anchor="middle" transform="translate(71.35 270.45) rotate(0.03) scale(0.3450 0.2500)" stroke="#2a2a2a" stroke-width="0.18">E</text>
<rect x="78.28" y="250.24" width="7.8" height="11.56" fill="#97a900"/>
<text font-size="14.8" fill="#111" text-anchor="middle" transform="translate(82.18 249.34) rotate(0.03) scale(0.3450 0.2500)" stroke="#111" stroke-width="0.18">25</text>
<line x1="82.18" y1="266.9" x2="82.18" y2="267.9" stroke="#555" stroke-width="0.4"/>
<text font-size="15.2" fill="#2a2a2a" text-anchor="middle" transform="translate(82.18 270.45) rotate(0.03) scale(0.3450 0.2500)" stroke="#2a2a2a" stroke-width="0.18">F</text>
<rect x="89.12" y="216.94" width="7.8" height="44.86" fill="#71b000"/>
<text font-size="14.8" fill="#111" text-anchor="middle" transform="translate(93.02 216.04) rotate(0.03) scale(0.3450 0.2500)" stroke="#111" stroke-width="0.18">97</text>
<line x1="93.02" y1="266.9" x2="93.02" y2="267.9" stroke="#555" stroke-width="0.4"/>
<text font-size="15.2" fill="#2a2a2a" text-anchor="middle" transform="translate(93.02 270.45) rotate(0.03) scale(0.3450 0.2500)" stroke="#2a2a2a" stroke-width="0.18">G</text>
<rect x="99.96" y="242.38" width="7.8" height="19.43" fill="#2fb600"/>
<text font-size="14.8" fill="#111" text-anchor="middle" transform="translate(103.86 241.47) rotate(0.03) scale(0.3450 0.2500)" stroke="#111" stroke-width="0.18">42</text>
<line x1="103.86" y1="266.9" x2="103.86" y2="267.9" stroke="#555" stroke-width="0.4"/>
<text font-size="15.2" fill="#2a2a2a" text-anchor="middle" transform="translate(103.86 270.45) rotate(0.03) scale(0.3450 0.2500)" stroke="#2a2a2a" stroke-width="0.18">H</text>
<rect x="110.79" y="236.36" width="7.8" height="25.44" fill="#00bb4b"/>
<text font-size="14.8" fill="#111" text-anchor="middle" transform="translate(114.69 235.46) rotate(0.03) scale(0.3450 0.2500)" stroke="#111" stroke-width="0.18">55</text>
<line x1="114.69" y1="266.9" x2="114.69" y2="267.9" stroke="#555" stroke-width="0.4"/>
<text font-size="15.2" fill="#2a2a2a" text-anchor="middle" transform="translate(114.69 270.45) rotate(0.03) scale(0.3450 0.2500)" stroke="#2a2a2a" stroke-width="0.18">I</text>
<rect x="121.63" y="175.78" width="7.8" height="86.03" fill="#00bf76"/>
<text font-size="14.8" fill="#111" text-anchor="middle" transform="translate(125.53 174.88) rotate(0.03) scale(0.3450 0.2500)" stroke="#111" stroke-width="0.18">186</text>
<line x1="125.53" y1="266.9" x2="125.53" y2="267.9" stroke="#555" stroke-width="0.4"/>
<text font-size="15.2" fill="#2a2a2a" text-anchor="middle" transform="translate(125.53 270.45) rotate(0.03) scale(0.3450 0.2500)" stroke="#2a2a2a" stroke-width="0.18">J</text>
<rect x="132.46" y="250.7" width="7.8" height="11.1" fill="#00c098"/>
<text font-size="14.8" fill="#111" text-anchor="middle" transform="translate(136.36 249.8) rotate(0.03) scale(0.3450 0.2500)" stroke="#111" stroke-width="0.18">24</text>
<line x1="136.36" y1="266.9" x2="136.36" y2="267.9" stroke="#555" stroke-width="0.4"/>
<text font-size="15.2" fill="#2a2a2a" text-anchor="middle" transform="translate(136.36 270.45) rotate(0.03) scale(0.3450 0.2500)" stroke="#2a2a2a" stroke-width="0.18">K</text>
<rect x="143.3" y="247.93" width="7.8" height="13.88" fill="#00c0b7"/>
<text font-size="14.8" fill="#111" text-anchor="middle" transform="translate(147.2 247.03) rotate(0.03) scale(0.3450 0.2500)" stroke="#111" stroke-width="0.18">30</text>
<line x1="147.2" y1="266.9" x2="147.2" y2="267.9" stroke="#555" stroke-width="0.4"/>
<text font-size="15.2" fill="#2a2a2a" text-anchor="middle" transform="translate(147.2 270.45) rotate(0.03) scale(0.3450 0.2500)" stroke="#2a2a2a" stroke-width="0.18">L</text>
<rect x="154.14" y="253.48" width="7.8" height="8.32" fill="#00bdd1"/>
<text font-size="14.8" fill="#111" text-anchor="middle" transform="translate(158.04 252.58) rotate(0.03) scale(0.3450 0.2500)" stroke="#111" stroke-width="0.18">18</text>
<line x1="158.04" y1="266.9" x2="158.04" y2="267.9" stroke="#555" stroke-width="0.4"/>
<text font-size="15.2" fill="#2a2a2a" text-anchor="middle" transform="translate(158.04 270.45) rotate(0.03) scale(0.3450 0.2500)" stroke="#2a2a2a" stroke-width="0.18">M</text>
<rect x="164.97" y="161.44" width="7.8" height="100.36" fill="#00b7e8"/>
<text font-size="14.8" fill="#111" text-anchor="middle" transform="translate(168.87 160.54) rotate(0.03) scale(0.3450 0.2500)" stroke="#111" stroke-width="0.18">217</text>
<line x1="168.87" y1="266.9" x2="168.87" y2="267.9" stroke="#555" stroke-width="0.4"/>
<text font-size="15.2" fill="#2a2a2a" text-anchor="middle" transform="translate(168.87 270.45) rotate(0.03) scale(0.3450 0.2500)" stroke="#2a2a2a" stroke-width="0.18">O</text>
<rect x="175.81" y="237.29" width="7.8" height="24.51" fill="#00aef9"/>
<text font-size="14.8" fill="#111" text-anchor="middle" transform="translate(179.71 236.39) rotate(0.03) scale(0.3450 0.2500)" stroke="#111" stroke-width="0.18">53</text>
<line x1="179.71" y1="266.9" x2="179.71" y2="267.9" stroke="#555" stroke-width="0.4"/>
<text font-size="15.2" fill="#2a2a2a" text-anchor="middle" transform="translate(179.71 270.45) rotate(0.03) scale(0.3450 0.2500)" stroke="#2a2a2a" stroke-width="0.18">P</text>
<rect x="186.64" y="229.89" width="7.8" height="31.91" fill="#3da1ff"/>
<text font-size="14.8" fill="#111" text-anchor="middle" transform="translate(190.54 228.99) rotate(0.03) scale(0.3450 0.2500)" stroke="#111" stroke-width="0.18">69</text>
<line x1="190.54" y1="266.9" x2="190.54" y2="267.9" stroke="#555" stroke-width="0.4"/>
<text font-size="15.2" fill="#2a2a2a" text-anchor="middle" transform="translate(190.54 270.45) rotate(0.03) scale(0.3450 0.2500)" stroke="#2a2a2a" stroke-width="0.18">Q</text>
<rect x="197.48" y="206.76" width="7.8" height="55.04" fill="#8f91ff"/>
<text font-size="14.8" fill="#111" text-anchor="middle" transform="translate(201.38 205.86) rotate(0.03) scale(0.3450 0.2500)" stroke="#111" stroke-width="0.18">119</text>
<line x1="201.38" y1="266.9" x2="201.38" y2="267.9" stroke="#555" stroke-width="0.4"/>
<text font-size="15.2" fill="#2a2a2a" text-anchor="middle" transform="translate(201.38 270.45) rotate(0.03) scale(0.3450 0.2500)" stroke="#2a2a2a" stroke-width="0.18">S</text>
<rect x="208.32" y="212.78" width="7.8" height="49.03" fill="#be80ff"/>
<text font-size="14.8" fill="#111" text-anchor="middle" transform="translate(212.22 211.88) rotate(0.03) scale(0.3450 0.2500)" stroke="#111" stroke-width="0.18">106</text>
<line x1="212.22" y1="266.9" x2="212.22" y2="267.9" stroke="#555" stroke-width="0.4"/>
<text font-size="15.2" fill="#2a2a2a" text-anchor="middle" transform="translate(212.22 270.45) rotate(0.03) scale(0.3450 0.2500)" stroke="#2a2a2a" stroke-width="0.18">T</text>
<rect x="219.15" y="206.76" width="7.8" height="55.04" fill="#de71f9"/>
<text font-size="14.8" fill="#111" text-anchor="middle" transform="translate(223.05 205.86) rotate(0.03) scale(0.3450 0.2500)" stroke="#111" stroke-width="0.18">119</text>
<line x1="223.05" y1="266.9" x2="223.05" y2="267.9" stroke="#555" stroke-width="0.4"/>
<text font-size="15.2" fill="#2a2a2a" text-anchor="middle" transform="translate(223.05 270.45) rotate(0.03) scale(0.3450 0.2500)" stroke="#2a2a2a" stroke-width="0.18">U</text>
<rect x="229.99" y="258.56" width="7.8" height="3.24" fill="#f265e7"/>
<text font-size="14.8" fill="#111" text-anchor="middle" transform="translate(233.89 257.66) rotate(0.03) scale(0.3450 0.2500)" stroke="#111" stroke-width="0.18">7</text>
<line x1="233.89" y1="266.9" x2="233.89" y2="267.9" stroke="#555" stroke-width="0.4"/>
<text font-size="15.2" fill="#2a2a2a" text-anchor="middle" transform="translate(233.89 270.45) rotate(0.03) scale(0.3450 0.2500)" stroke="#2a2a2a" stroke-width="0.18">V</text>
<rect x="240.83" y="259.49" width="7.8" height="2.31" fill="#fe61cf"/>
<text font-size="14.8" fill="#111" text-anchor="middle" transform="translate(244.73 258.59) rotate(0.03) scale(0.3450 0.2500)" stroke="#111" stroke-width="0.18">5</text>
<line x1="244.73" y1="266.9" x2="244.73" y2="267.9" stroke="#555" stroke-width="0.4"/>
<text font-size="15.2" fill="#2a2a2a" text-anchor="middle" transform="translate(244.73 270.45) rotate(0.03) scale(0.3450 0.2500)" stroke="#2a2a2a" stroke-width="0.18">W</text>
<rect x="251.66" y="257.64" width="7.8" height="4.16" fill="#ff64b3"/>
<text font-size="14.8" fill="#111" text-anchor="middle" transform="translate(255.56 256.74) rotate(0.03) scale(0.3450 0.2500)" stroke="#111" stroke-width="0.18">9</text>
<line x1="255.56" y1="266.9" x2="255.56" y2="267.9" stroke="#555" stroke-width="0.4"/>
<text font-size="15.2" fill="#2a2a2a" text-anchor="middle" transform="translate(255.56 270.45) rotate(0.03) scale(0.3450 0.2500)" stroke="#2a2a2a" stroke-width="0.18">Y</text>
<rect x="262.5" y="247.46" width="7.8" height="14.34" fill="#ff6c92"/>
<text font-size="14.8" fill="#111" text-anchor="middle" transform="translate(266.4 246.56) rotate(0.03) scale(0.3450 0.2500)" stroke="#111" stroke-width="0.18">31</text>
<line x1="266.4" y1="266.9" x2="266.4" y2="267.9" stroke="#555" stroke-width="0.4"/>
<text font-size="15.2" fill="#2a2a2a" text-anchor="middle" transform="translate(266.4 270.45) rotate(0.03) scale(0.3450 0.2500)" stroke="#2a2a2a" stroke-width="0.18">Z</text>
<rect x="21.5" y="156.5" width="251.4" height="110.4" fill="none" stroke="#b5b5b5" stroke-width="0.6"/>
<line x1="20.5" y1="261.8" x2="21.5" y2="261.8" stroke="#555" stroke-width="0.4"/>
<text font-size="15.2" fill="#2a2a2a" text-anchor="end" transform="translate(19.8 263.15) rotate(0.03) scale(0.3450 0.2500)" stroke="#2a2a2a" stroke-width="0.18">0</text>
<line x1="20.5" y1="238.68" x2="21.5" y2="238.68" stroke="#555" stroke-width="0.4"/>
<text font-size="15.2" fill="#2a2a2a" text-anchor="end" transform="translate(19.8 240.03) rotate(0.03) scale(0.3450 0.2500)" stroke="#2a2a2a" stroke-width="0.18">50</text>
<line x1="20.5" y1="215.55" x2="21.5" y2="215.55" stroke="#555" stroke-width="0.4"/>
<text font-size="15.2" fill="#2a2a2a" text-anchor="end" transform="translate(19.8 216.9) rotate(0.03) scale(0.3450 0.2500)" stroke="#2a2a2a" stroke-width="0.18">100</text>
<line x1="20.5" y1="192.43" x2="21.5" y2="192.43" stroke="#555" stroke-width="0.4"/>
<text font-size="15.2" fill="#2a2a2a" text-anchor="end" transform="translate(19.8 193.78) rotate(0.03) scale(0.3450 0.2500)" stroke="#2a2a2a" stroke-width="0.18">150</text>
<line x1="20.5" y1="169.3" x2="21.5" y2="169.3" stroke="#555" stroke-width="0.4"/>
<text font-size="15.2" fill="#2a2a2a" text-anchor="end" transform="translate(19.8 170.65) rotate(0.03) scale(0.3450 0.2500)" stroke="#2a2a2a" stroke-width="0.18">200</text>
<text font-size="35.2" fill="#000" font-weight="bold" font-family="Liberation Serif, Times New Roman, serif" transform="translate(8 163.4) rotate(0.03) scale(0.3375 0.2500)" stroke="#000" stroke-width="0.42">c</text>
<text font-size="26.4" fill="#111" text-anchor="middle" font-weight="bold" transform="translate(10.3 215.8) rotate(-89.97) scale(0.1294 0.2500)" stroke="#111" stroke-width="0.32">Number of proteins</text>
<text font-size="19.6" fill="#111" text-anchor="middle" font-weight="bold" transform="translate(147.1 275.6) rotate(0.03) scale(0.3178 0.2500)" stroke="#111" stroke-width="0.24">COG/KOG categories</text>
<rect x="25.5" y="277.89" width="6.9" height="4.26" fill="#f8766d"/>
<text font-size="13.2" fill="#222" transform="translate(35.8 281.2) rotate(0.03) scale(0.3222 0.2500)" stroke="#222" stroke-width="0.16">[A]</text>
<text font-size="15.6" fill="#111" transform="translate(42 281.3) rotate(0.03) scale(0.2972 0.2500)" stroke="#111" stroke-width="0.19">RNA processing and modification</text>
<rect x="25.5" y="282.1" width="6.9" height="4.26" fill="#ec823c"/>
<text font-size="13.2" fill="#222" transform="translate(35.8 285.46) rotate(0.03) scale(0.3222 0.2500)" stroke="#222" stroke-width="0.16">[B]</text>
<text font-size="15.6" fill="#111" transform="translate(42 285.56) rotate(0.03) scale(0.2997 0.2500)" stroke="#111" stroke-width="0.19">Chromatin structure and dynamics</text>
<rect x="25.5" y="286.31" width="6.9" height="4.26" fill="#dd8d00"/>
<text font-size="13.2" fill="#222" transform="translate(35.8 289.72) rotate(0.03) scale(0.3083 0.2500)" stroke="#222" stroke-width="0.16">[C]</text>
<text font-size="15.6" fill="#111" transform="translate(42 289.82) rotate(0.03) scale(0.3054 0.2500)" stroke="#111" stroke-width="0.19">Energy production and conversion</text>
<rect x="25.5" y="290.52" width="6.9" height="4.26" fill="#ca9700"/>
<text font-size="13.2" fill="#222" transform="translate(35.8 293.98) rotate(0.03) scale(0.3083 0.2500)" stroke="#222" stroke-width="0.16">[D]</text>
<text font-size="15.6" fill="#111" transform="translate(42 294.08) rotate(0.03) scale(0.1860 0.2500)" stroke="#111" stroke-width="0.19">Cell</text>
<text font-size="11.2" fill="#111" transform="translate(48.2 294.08) rotate(0.03) scale(0.3668 0.2500)" stroke="#111" stroke-width="0.13">cycle control, cell division, chromosome partitioning</text>
<rect x="25.5" y="294.73" width="6.9" height="4.26" fill="#b3a000"/>
<text font-size="13.2" fill="#222" transform="translate(35.8 298.24) rotate(0.03) scale(0.3222 0.2500)" stroke="#222" stroke-width="0.16">[E]</text>
<text font-size="15.6" fill="#111" transform="translate(42 298.34) rotate(0.03) scale(0.2967 0.2500)" stroke="#111" stroke-width="0.19">Amino acid transport and metabolism</text>
<rect x="25.5" y="298.94" width="6.9" height="4.26" fill="#97a900"/>
<text font-size="13.2" fill="#222" transform="translate(35.8 302.5) rotate(0.03) scale(0.3377 0.2500)" stroke="#222" stroke-width="0.16">[F]</text>
<text font-size="15.6" fill="#111" transform="translate(42 302.6) rotate(0.03) scale(0.3015 0.2500)" stroke="#111" stroke-width="0.19">Nucleotide transport and metabolism</text>
<rect x="25.5" y="303.15" width="6.9" height="4.26" fill="#71b000"/>
<text font-size="13.2" fill="#222" transform="translate(35.8 306.76) rotate(0.03) scale(0.2954 0.2500)" stroke="#222" stroke-width="0.16">[G]</text>
<text font-size="15.6" fill="#111" transform="translate(42 306.86) rotate(0.03) scale(0.3085 0.2500)" stroke="#111" stroke-width="0.19">Carbohydrate transport and metabolism</text>
<rect x="25.5" y="307.37" width="6.9" height="4.26" fill="#2fb600"/>
<text font-size="13.2" fill="#222" transform="translate(35.8 311.02) rotate(0.03) scale(0.3083 0.2500)" stroke="#222" stroke-width="0.16">[H]</text>
<text font-size="15.6" fill="#111" transform="translate(42 311.12) rotate(0.03) scale(0.3099 0.2500)" stroke="#111" stroke-width="0.19">Coenzyme transport and metabolism</text>
<rect x="25.5" y="311.57" width="6.9" height="4.26" fill="#00bb4b"/>
<text font-size="13.2" fill="#222" transform="translate(35.8 315.28) rotate(0.03) scale(0.3999 0.2500)" stroke="#222" stroke-width="0.16">[I]</text>
<text font-size="15.6" fill="#111" transform="translate(42.6 315.38) rotate(0.03) scale(0.3066 0.2500)" stroke="#111" stroke-width="0.19">Lipid transport and metabolism</text>
<rect x="25.5" y="315.78" width="6.9" height="4.26" fill="#00bf76"/>
<text font-size="13.2" fill="#222" transform="translate(35.8 319.54) rotate(0.03) scale(0.3157 0.2500)" stroke="#222" stroke-width="0.16">[J]</text>
<text font-size="15.6" fill="#111" transform="translate(42.6 319.64) rotate(0.03) scale(0.3024 0.2500)" stroke="#111" stroke-width="0.19">Translation, ribosomal structure</text>
<text font-size="11.2" fill="#111" transform="translate(110.5 319.64) rotate(0.03) scale(0.3557 0.2500)" stroke="#111" stroke-width="0.13">and biogenesis</text>
<rect x="25.5" y="320" width="6.9" height="4.26" fill="#00c098"/>
<text font-size="13.2" fill="#222" transform="translate(35.8 323.8) rotate(0.03) scale(0.3222 0.2500)" stroke="#222" stroke-width="0.16">[K]</text>
<text font-size="15.6" fill="#111" transform="translate(42 323.9) rotate(0.03) scale(0.2679 0.2500)" stroke="#111" stroke-width="0.19">Transcription</text>
<rect x="25.5" y="324.2" width="6.9" height="4.26" fill="#00c0b7"/>
<text font-size="13.2" fill="#222" transform="translate(35.8 328.06) rotate(0.03) scale(0.2998 0.2500)" stroke="#222" stroke-width="0.16">[L]</text>
<text font-size="15.6" fill="#111" transform="translate(42.6 328.16) rotate(0.03) scale(0.3084 0.2500)" stroke="#111" stroke-width="0.19">Replication, recombination and repair</text>
<rect x="144.8" y="278.11" width="6.8" height="4.23" fill="#00bdd1"/>
<text font-size="13.2" fill="#222" transform="translate(154.5 281.4) rotate(0.03) scale(0.2837 0.2500)" stroke="#222" stroke-width="0.16">[M]</text>
<text font-size="15.6" fill="#111" transform="translate(163.2 281.5) rotate(0.03) scale(0.3103 0.2500)" stroke="#111" stroke-width="0.19">Cell wall/membrane/envelope biogenesis</text>
<rect x="144.8" y="282.29" width="6.8" height="4.23" fill="#00b7e8"/>
<text font-size="13.2" fill="#222" transform="translate(154.5 285.59) rotate(0.03) scale(0.2954 0.2500)" stroke="#222" stroke-width="0.16">[O]</text>
<text font-size="15.6" fill="#111" transform="translate(161.3 285.69) rotate(0.03) scale(0.2965 0.2500)" stroke="#111" stroke-width="0.19">Posttranslational</text>
<text font-size="11.2" fill="#111" transform="translate(197 285.69) rotate(0.03) scale(0.3466 0.2500)" stroke="#111" stroke-width="0.13">modification, protein turnover, chaperones</text>
<rect x="144.8" y="286.47" width="6.8" height="4.23" fill="#00aef9"/>
<text font-size="13.2" fill="#222" transform="translate(154.5 289.78) rotate(0.03) scale(0.3222 0.2500)" stroke="#222" stroke-width="0.16">[P]</text>
<text font-size="15.6" fill="#111" transform="translate(161.3 289.88) rotate(0.03) scale(0.3107 0.2500)" stroke="#111" stroke-width="0.19">Inorganic ion transport and metabolism</text>
<rect x="144.8" y="290.65" width="6.8" height="4.23" fill="#3da1ff"/>
<text font-size="13.2" fill="#222" transform="translate(154.5 293.97) rotate(0.03) scale(0.2954 0.2500)" stroke="#222" stroke-width="0.16">[Q]</text>
<text font-size="15.6" fill="#111" transform="translate(161.3 294.07) rotate(0.03) scale(0.2668 0.2500)" stroke="#111" stroke-width="0.19">Secondary</text>
<text font-size="11.2" fill="#111" transform="translate(182.6 294.07) rotate(0.03) scale(0.3503 0.2500)" stroke="#111" stroke-width="0.13">metabolites biosynthesis, transport and catabolism</text>
<rect x="144.8" y="294.83" width="6.8" height="4.23" fill="#8f91ff"/>
<text font-size="13.2" fill="#222" transform="translate(154.5 298.16) rotate(0.03) scale(0.3222 0.2500)" stroke="#222" stroke-width="0.16">[S]</text>
<text font-size="15.6" fill="#111" transform="translate(162.2 298.26) rotate(0.03) scale(0.3064 0.2500)" stroke="#111" stroke-width="0.19">Function unknown</text>
<rect x="144.8" y="299.01" width="6.8" height="4.23" fill="#be80ff"/>
<text font-size="13.2" fill="#222" transform="translate(154.5 302.35) rotate(0.03) scale(0.3377 0.2500)" stroke="#222" stroke-width="0.16">[T]</text>
<text font-size="15.6" fill="#111" transform="translate(162.4 302.45) rotate(0.03) scale(0.3081 0.2500)" stroke="#111" stroke-width="0.19">Signal transduction mechanisms</text>
<rect x="144.8" y="303.19" width="6.8" height="4.23" fill="#de71f9"/>
<text font-size="13.2" fill="#222" transform="translate(154.5 306.54) rotate(0.03) scale(0.3083 0.2500)" stroke="#222" stroke-width="0.16">[U]</text>
<text font-size="15.6" fill="#111" transform="translate(161.9 306.64) rotate(0.03) scale(0.2902 0.2500)" stroke="#111" stroke-width="0.19">Intracellular</text>
<text font-size="11.2" fill="#111" transform="translate(186.7 306.64) rotate(0.03) scale(0.3645 0.2500)" stroke="#111" stroke-width="0.13">trafficking, secretion, and vesicular transport</text>
<rect x="144.8" y="307.37" width="6.8" height="4.23" fill="#f265e7"/>
<text font-size="13.2" fill="#222" transform="translate(154.5 310.73) rotate(0.03) scale(0.3222 0.2500)" stroke="#222" stroke-width="0.16">[V]</text>
<text font-size="15.6" fill="#111" transform="translate(162.2 310.83) rotate(0.03) scale(0.2987 0.2500)" stroke="#111" stroke-width="0.19">Defense mechanisms</text>
<rect x="144.8" y="311.55" width="6.8" height="4.23" fill="#fe61cf"/>
<text font-size="13.2" fill="#222" transform="translate(154.5 314.92) rotate(0.03) scale(0.2627 0.2500)" stroke="#222" stroke-width="0.16">[W]</text>
<text font-size="15.6" fill="#111" transform="translate(163.3 315.02) rotate(0.03) scale(0.3070 0.2500)" stroke="#111" stroke-width="0.19">Extracellular structures</text>
<rect x="144.8" y="315.73" width="6.8" height="4.23" fill="#ff64b3"/>
<text font-size="13.2" fill="#222" transform="translate(154.5 319.11) rotate(0.03) scale(0.3222 0.2500)" stroke="#222" stroke-width="0.16">[Y]</text>
<text font-size="15.6" fill="#111" transform="translate(161.3 319.21) rotate(0.03) scale(0.3090 0.2500)" stroke="#111" stroke-width="0.19">Nuclear structure</text>
<rect x="144.8" y="319.91" width="6.8" height="4.23" fill="#ff6c92"/>
<text font-size="13.2" fill="#222" transform="translate(154.5 323.3) rotate(0.03) scale(0.3377 0.2500)" stroke="#222" stroke-width="0.16">[Z]</text>
<text font-size="15.6" fill="#111" transform="translate(161.3 323.4) rotate(0.03) scale(0.2994 0.2500)" stroke="#111" stroke-width="0.19">Cytoskeleton</text>
</g>
<g id="panel-d">
<text font-size="65.2" fill="#000" font-weight="bold" font-family="Liberation Serif, Times New Roman, serif" transform="translate(7.7 352.8) rotate(0.03) scale(0.2500)" stroke="#000" stroke-width="0.78">d</text>
<rect x="116.7" y="338" width="113" height="128.8" fill="#fff"/>
<line x1="130.82" y1="338" x2="130.82" y2="466.8" stroke="#ececec" stroke-width="0.5"/>
<line x1="159.07" y1="338" x2="159.07" y2="466.8" stroke="#ececec" stroke-width="0.5"/>
<line x1="187.32" y1="338" x2="187.32" y2="466.8" stroke="#ececec" stroke-width="0.5"/>
<line x1="215.57" y1="338" x2="215.57" y2="466.8" stroke="#ececec" stroke-width="0.5"/>
<line x1="144.95" y1="338" x2="144.95" y2="466.8" stroke="#ececec" stroke-width="0.5"/>
<line x1="173.2" y1="338" x2="173.2" y2="466.8" stroke="#ececec" stroke-width="0.5"/>
<line x1="201.45" y1="338" x2="201.45" y2="466.8" stroke="#ececec" stroke-width="0.5"/>
<line x1="116.7" y1="346" x2="229.7" y2="346" stroke="#ececec" stroke-width="0.5"/>
<line x1="116.7" y1="358.6" x2="229.7" y2="358.6" stroke="#ececec" stroke-width="0.5"/>
<line x1="116.7" y1="371.2" x2="229.7" y2="371.2" stroke="#ececec" stroke-width="0.5"/>
<line x1="116.7" y1="383.8" x2="229.7" y2="383.8" stroke="#ececec" stroke-width="0.5"/>
<line x1="116.7" y1="396.4" x2="229.7" y2="396.4" stroke="#ececec" stroke-width="0.5"/>
<line x1="116.7" y1="409" x2="229.7" y2="409" stroke="#ececec" stroke-width="0.5"/>
<line x1="116.7" y1="421.6" x2="229.7" y2="421.6" stroke="#ececec" stroke-width="0.5"/>
<line x1="116.7" y1="434.2" x2="229.7" y2="434.2" stroke="#ececec" stroke-width="0.5"/>
<line x1="116.7" y1="446.8" x2="229.7" y2="446.8" stroke="#ececec" stroke-width="0.5"/>
<line x1="116.7" y1="459.4" x2="229.7" y2="459.4" stroke="#ececec" stroke-width="0.5"/>
<circle cx="224.7" cy="346" r="3.3" fill="#dc2626"/>
<line x1="115" y1="346" x2="116.7" y2="346" stroke="#444" stroke-width="0.5"/>
<text font-size="18.6" fill="#222" text-anchor="end" transform="translate(114.1 347.36) rotate(0.03) scale(0.2500)" stroke="#222" stroke-width="0.22">Proteasome</text>
<circle cx="206.9" cy="358.6" r="4.9" fill="#dc2626"/>
<line x1="115" y1="358.6" x2="116.7" y2="358.6" stroke="#444" stroke-width="0.5"/>
<text font-size="18.6" fill="#222" text-anchor="end" transform="translate(114.1 359.96) rotate(0.03) scale(0.2500)" stroke="#222" stroke-width="0.22">Ribosome</text>
<circle cx="206" cy="371.2" r="1.4" fill="#84529a"/>
<line x1="115" y1="371.2" x2="116.7" y2="371.2" stroke="#444" stroke-width="0.5"/>
<text font-size="18.6" fill="#222" text-anchor="end" transform="translate(114.1 372.56) rotate(0.03) scale(0.2500)" stroke="#222" stroke-width="0.22">SNARE interactions in vesicular transport</text>
<circle cx="164.2" cy="383.8" r="2.6" fill="#7d5a86"/>
<line x1="115" y1="383.8" x2="116.7" y2="383.8" stroke="#444" stroke-width="0.5"/>
<text font-size="18.6" fill="#222" text-anchor="end" transform="translate(114.1 385.16) rotate(0.03) scale(0.2500)" stroke="#222" stroke-width="0.22">Other types of O−glycan biosynthesis</text>
<circle cx="156.4" cy="396.4" r="2.6" fill="#5d5ca6"/>
<line x1="115" y1="396.4" x2="116.7" y2="396.4" stroke="#444" stroke-width="0.5"/>
<text font-size="18.6" fill="#222" text-anchor="end" transform="translate(114.1 397.76) rotate(0.03) scale(0.2500)" stroke="#222" stroke-width="0.22">Pentose phosphate pathway</text>
<circle cx="137.8" cy="409" r="2.8" fill="#4f62b2"/>
<line x1="115" y1="409" x2="116.7" y2="409" stroke="#444" stroke-width="0.5"/>
<text font-size="18.6" fill="#222" text-anchor="end" transform="translate(114.1 410.36) rotate(0.03) scale(0.2500)" stroke="#222" stroke-width="0.22">Amino sugar and nucleotide sugar metabolism</text>
<circle cx="132.6" cy="421.6" r="3.6" fill="#c4383e"/>
<line x1="115" y1="421.6" x2="116.7" y2="421.6" stroke="#444" stroke-width="0.5"/>
<text font-size="18.6" fill="#222" text-anchor="end" transform="translate(114.1 422.96) rotate(0.03) scale(0.2500)" stroke="#222" stroke-width="0.22">Aminoacyl−tRNA biosynthesis</text>
<circle cx="126" cy="434.2" r="3.6" fill="#c63a3e"/>
<line x1="115" y1="434.2" x2="116.7" y2="434.2" stroke="#444" stroke-width="0.5"/>
<text font-size="18.6" fill="#222" text-anchor="end" transform="translate(114.1 435.56) rotate(0.03) scale(0.2500)" stroke="#222" stroke-width="0.22">Oxidative phosphorylation</text>
<circle cx="124.6" cy="446.8" r="3.2" fill="#3d72c4"/>
<line x1="115" y1="446.8" x2="116.7" y2="446.8" stroke="#444" stroke-width="0.5"/>
<text font-size="18.6" fill="#222" text-anchor="end" transform="translate(114.1 448.16) rotate(0.03) scale(0.2500)" stroke="#222" stroke-width="0.22">Phagosome</text>
<circle cx="121.8" cy="459.4" r="3.2" fill="#4864b8"/>
<line x1="115" y1="459.4" x2="116.7" y2="459.4" stroke="#444" stroke-width="0.5"/>
<text font-size="18.6" fill="#222" text-anchor="end" transform="translate(114.1 460.76) rotate(0.03) scale(0.2500)" stroke="#222" stroke-width="0.22">Carbon fixation in photosynthetic organisms</text>
<rect x="116.7" y="338" width="113" height="128.8" fill="none" stroke="#6e6e6e" stroke-width="0.65"/>
<line x1="116.7" y1="466.8" x2="116.7" y2="468.3" stroke="#444" stroke-width="0.5"/>
<text font-size="20" fill="#4d4d4d" text-anchor="middle" transform="translate(117.5 472.69) rotate(0.03) scale(0.2500)" stroke="#4d4d4d" stroke-width="0.24">0.5</text>
<line x1="144.95" y1="466.8" x2="144.95" y2="468.3" stroke="#444" stroke-width="0.5"/>
<text font-size="20" fill="#4d4d4d" text-anchor="middle" transform="translate(144.95 472.69) rotate(0.03) scale(0.2500)" stroke="#4d4d4d" stroke-width="0.24">0.7</text>
<line x1="173.2" y1="466.8" x2="173.2" y2="468.3" stroke="#444" stroke-width="0.5"/>
<text font-size="20" fill="#4d4d4d" text-anchor="middle" transform="translate(173.2 472.69) rotate(0.03) scale(0.2500)" stroke="#4d4d4d" stroke-width="0.24">0.9</text>
<line x1="201.45" y1="466.8" x2="201.45" y2="468.3" stroke="#444" stroke-width="0.5"/>
<text font-size="20" fill="#4d4d4d" text-anchor="middle" transform="translate(201.45 472.69) rotate(0.03) scale(0.2500)" stroke="#4d4d4d" stroke-width="0.24">1.1</text>
<line x1="229.7" y1="466.8" x2="229.7" y2="468.3" stroke="#444" stroke-width="0.5"/>
<text font-size="20" fill="#4d4d4d" text-anchor="middle" transform="translate(229.7 472.69) rotate(0.03) scale(0.2500)" stroke="#4d4d4d" stroke-width="0.24">1.3</text>
<text font-size="24.8" fill="#222" transform="translate(142.9 481.22) rotate(0.03) scale(0.2500)" stroke="#222" stroke-width="0.3">Log2</text>
<text font-size="31.2" fill="#555" font-family="Liberation Serif, Times New Roman, serif" transform="translate(159.2 481.99) rotate(0.03) scale(0.2149 0.2500)" stroke="#555" stroke-width="0.37">fold</text>
<text font-size="24.8" fill="#222" transform="translate(171.8 481.22) rotate(0.03) scale(0.2500)" stroke="#222" stroke-width="0.3">enrichment</text>
<text x="234.5" y="352.9" font-size="8.7" fill="#3a3a3a" font-family="Liberation Serif, Times New Roman, serif" textLength="24" lengthAdjust="spacingAndGlyphs"><tspan font-style="italic">p</tspan>-value</text>
<defs><linearGradient id="pv" x1="0" y1="0" x2="0" y2="1"><stop offset="0" stop-color="#3f70c0"/><stop offset="1" stop-color="#e42a2a"/></linearGradient></defs>
<rect x="238.1" y="355.8" width="8.7" height="44.4" fill="url(#pv)"/>
<line x1="238.1" y1="359.9" x2="239.8" y2="359.9" stroke="#fff" stroke-width="0.5"/>
<line x1="245.1" y1="359.9" x2="246.8" y2="359.9" stroke="#fff" stroke-width="0.5"/>
<text font-size="24.8" fill="#222" transform="translate(249 362.62) rotate(0.03) scale(0.2500)" stroke="#222" stroke-width="0.3">0.03</text>
<line x1="238.1" y1="373" x2="239.8" y2="373" stroke="#fff" stroke-width="0.5"/>
<line x1="245.1" y1="373" x2="246.8" y2="373" stroke="#fff" stroke-width="0.5"/>
<text font-size="24.8" fill="#222" transform="translate(249 375.72) rotate(0.03) scale(0.2500)" stroke="#222" stroke-width="0.3">0.02</text>
<line x1="238.1" y1="386.1" x2="239.8" y2="386.1" stroke="#fff" stroke-width="0.5"/>
<line x1="245.1" y1="386.1" x2="246.8" y2="386.1" stroke="#fff" stroke-width="0.5"/>
<text font-size="24.8" fill="#222" transform="translate(249 388.82) rotate(0.03) scale(0.2500)" stroke="#222" stroke-width="0.3">0.01</text>
<text font-size="22.52" fill="#222" transform="translate(232.3 413.92) rotate(0.03) scale(0.2500)" stroke="#222" stroke-width="0.27">Protein number</text>
<circle cx="243.2" cy="422.8" r="1.2" fill="#000"/>
<text font-size="25.2" fill="#222" transform="translate(250.9 424.66) rotate(0.03) scale(0.2500)" stroke="#222" stroke-width="0.3">9</text>
<circle cx="243.2" cy="431.6" r="2.9" fill="#000"/>
<text font-size="25.2" fill="#222" transform="translate(250.9 433.46) rotate(0.03) scale(0.2500)" stroke="#222" stroke-width="0.3">29</text>
<circle cx="243.2" cy="440.3" r="3.6" fill="#000"/>
<text font-size="25.2" fill="#222" transform="translate(250.9 442.16) rotate(0.03) scale(0.2500)" stroke="#222" stroke-width="0.3">49</text>
<circle cx="243.2" cy="450.2" r="4.4" fill="#000"/>
<text font-size="25.2" fill="#222" transform="translate(250.9 452.06) rotate(0.03) scale(0.2500)" stroke="#222" stroke-width="0.3">69</text>
</g>
</svg>
</body></html>
